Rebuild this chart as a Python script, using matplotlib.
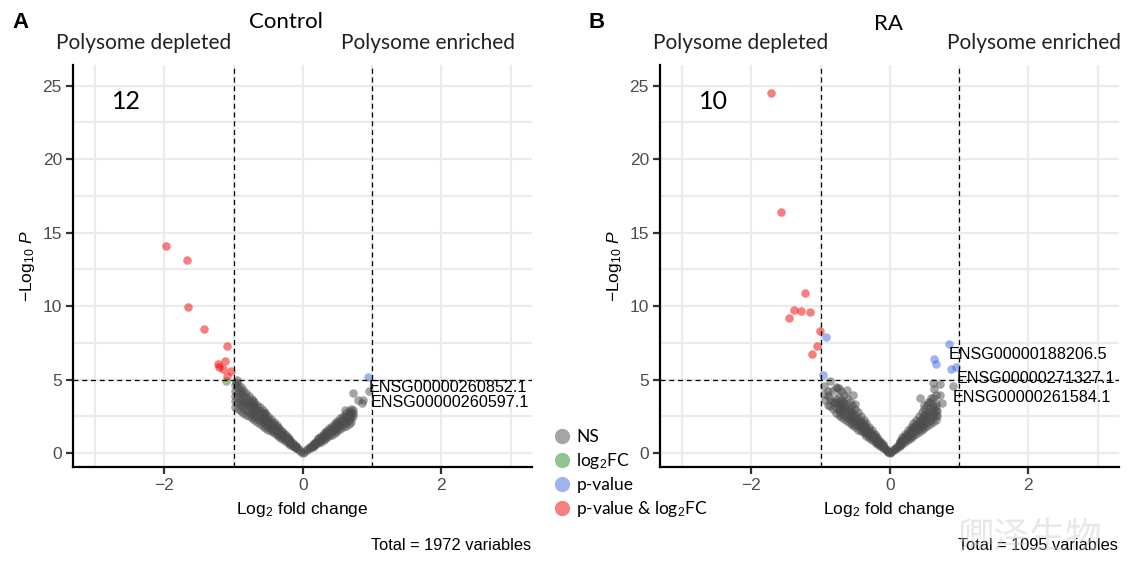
import matplotlib
matplotlib.use("Agg")
import matplotlib.pyplot as plt
from matplotlib.lines import Line2D

plt.rcParams['font.family'] = ['Liberation Sans', 'DejaVu Sans']
plt.rcParams['mathtext.fontset'] = 'custom'
plt.rcParams['mathtext.rm'] = 'Liberation Sans'
plt.rcParams['mathtext.it'] = 'Liberation Sans:italic'

# ---------------- data ----------------
# Control panel: non-significant points (dense V-shaped cloud + a few outliers)
ctrl_ns_x = [
    -0.98, -0.98, -0.98, -0.98, -0.94, -0.94, -0.94, -0.94, -0.90, -0.90, -0.90, -0.90,
    -0.86, -0.86, -0.86, -0.86, -0.82, -0.82, -0.82, -0.82, -0.78, -0.78, -0.78, -0.78,
    -0.74, -0.74, -0.74, -0.74, -0.70, -0.70, -0.70, -0.70, -0.66, -0.66, -0.66, -0.66,
    -0.62, -0.62, -0.62, -0.62, -0.58, -0.58, -0.58, -0.58, -0.54, -0.54, -0.54, -0.54,
    -0.50, -0.50, -0.50, -0.50, -0.46, -0.46, -0.46, -0.46, -0.42, -0.42, -0.42, -0.42,
    -0.38, -0.38, -0.38, -0.38, -0.34, -0.34, -0.34, -0.34, -0.30, -0.30, -0.30, -0.30,
    -0.26, -0.26, -0.26, -0.26, -0.22, -0.22, -0.22, -0.22, -0.18, -0.18, -0.18, -0.18,
    -0.14, -0.14, -0.14, -0.10, -0.10, -0.10, -0.06, -0.06, -0.02, 0.00,
    -0.97, -0.95, -0.93, -0.55, -0.72,
    0.02, 0.06, 0.06, 0.10, 0.10, 0.10, 0.14, 0.14, 0.14, 0.18, 0.18, 0.18,
    0.22, 0.22, 0.22, 0.22, 0.26, 0.26, 0.26, 0.26, 0.30, 0.30, 0.30, 0.30,
    0.34, 0.34, 0.34, 0.34, 0.38, 0.38, 0.38, 0.38, 0.42, 0.42, 0.42, 0.42,
    0.46, 0.46, 0.46, 0.46, 0.50, 0.50, 0.50, 0.50, 0.54, 0.54, 0.54, 0.54,
    0.58, 0.58, 0.58, 0.58, 0.62, 0.62, 0.62, 0.62, 0.66, 0.66, 0.66, 0.66,
    0.70, 0.70, 0.70, 0.70, 0.73, 0.73, 0.73,
    0.73, 0.96, 0.80, 0.85, 0.87, 0.61]
ctrl_ns_y = [
    3.55, 3.90, 4.25, 4.60, 3.40, 3.75, 4.10, 4.40, 3.25, 3.55, 3.90, 4.20,
    3.10, 3.40, 3.70, 4.00, 2.95, 3.25, 3.50, 3.80, 2.80, 3.10, 3.35, 3.60,
    2.65, 2.90, 3.15, 3.40, 2.50, 2.75, 3.00, 3.25, 2.40, 2.60, 2.85, 3.05,
    2.25, 2.45, 2.65, 2.85, 2.10, 2.30, 2.50, 2.70, 1.95, 2.15, 2.30, 2.50,
    1.80, 1.95, 2.15, 2.30, 1.65, 1.80, 1.95, 2.10, 1.50, 1.65, 1.80, 1.95,
    1.35, 1.50, 1.62, 1.75, 1.22, 1.34, 1.46, 1.58, 1.08, 1.18, 1.28, 1.40,
    0.94, 1.04, 1.12, 1.20, 0.80, 0.88, 0.96, 1.02, 0.65, 0.72, 0.78, 0.84,
    0.50, 0.56, 0.62, 0.36, 0.40, 0.45, 0.22, 0.25, 0.07, 0.02,
    4.85, 5.00, 4.70, 2.70, 3.55,
    0.07, 0.20, 0.25, 0.34, 0.40, 0.44, 0.48, 0.54, 0.60, 0.61, 0.69, 0.77,
    0.75, 0.84, 0.93, 1.00, 0.88, 0.98, 1.08, 1.15, 1.02, 1.13, 1.24, 1.33,
    1.16, 1.28, 1.40, 1.50, 1.29, 1.43, 1.56, 1.68, 1.43, 1.58, 1.72, 1.85,
    1.56, 1.72, 1.88, 2.02, 1.70, 1.87, 2.04, 2.20, 1.84, 2.02, 2.20, 2.36,
    1.97, 2.16, 2.36, 2.54, 2.10, 2.30, 2.50, 2.70, 2.24, 2.45, 2.66, 2.88,
    2.40, 2.60, 2.82, 3.00, 2.55, 2.75, 2.95,
    4.10, 4.25, 3.60, 3.43, 3.60, 2.95]
# Control: outer rows of the cloud (lower and upper edges)
ctrl_edge_x = [
    -0.98, -0.94, -0.90, -0.90, -0.86, -0.86, -0.82, -0.82, -0.78, -0.78, -0.74, -0.74,
    -0.70, -0.70, -0.66, -0.66, -0.62, -0.62, -0.58, -0.58, -0.54, -0.54, -0.50, -0.50,
    -0.46, -0.46, -0.42, -0.42, -0.38, -0.38, -0.34, -0.34, -0.30, -0.30, -0.26, -0.26,
    -0.22, -0.22, -0.18, -0.18, -0.14, -0.14, -0.10, -0.10,
    0.14, 0.18, 0.22, 0.26, 0.30, 0.34, 0.38, 0.42, 0.46, 0.50, 0.54, 0.58,
    0.62, 0.66, 0.70]
ctrl_edge_y = [
    3.14, 3.00, 2.88, 4.50, 2.75, 4.30, 2.62, 4.10, 2.50, 3.90, 2.37, 3.70,
    2.24, 3.50, 2.11, 3.30, 1.98, 3.10, 1.86, 2.90, 1.73, 2.70, 1.60, 2.50,
    1.47, 2.30, 1.34, 2.10, 1.22, 1.90, 1.09, 1.70, 0.96, 1.50, 0.83, 1.30,
    0.70, 1.10, 0.58, 0.90, 0.45, 0.70, 0.32, 0.50,
    0.42, 0.54, 0.66, 0.78, 0.90, 1.02, 1.14, 1.26, 1.38, 1.50, 1.62, 1.74,
    1.86, 1.98, 2.10]
ctrl_fc_x = [-1.11]
ctrl_fc_y = [4.90]
ctrl_p_x = [0.94]
ctrl_p_y = [5.20]
ctrl_both_x = [-1.97, -1.68, -1.66, -1.43, -1.09, -1.23, -1.21, -1.12, -1.16, -1.04, -1.09]
ctrl_both_y = [14.10, 13.15, 9.95, 8.45, 7.30, 6.05, 5.85, 6.25, 5.75, 5.60, 5.25]
ctrl_labels = ["ENSG00000260852.1", "ENSG00000260597.1"]
ctrl_label_x = [0.95, 0.98]
ctrl_label_y = [4.43, 3.41]
ctrl_count = "12"
ctrl_total = 1972

# RA panel: non-significant points
ra_ns_x = [
    -0.78, -0.78, -0.78, -0.78, -0.74, -0.74, -0.74, -0.74, -0.70, -0.70, -0.70, -0.70,
    -0.66, -0.66, -0.66, -0.66, -0.62, -0.62, -0.62, -0.62, -0.58, -0.58, -0.58, -0.58,
    -0.54, -0.54, -0.54, -0.54, -0.50, -0.50, -0.50, -0.50, -0.46, -0.46, -0.46, -0.46,
    -0.42, -0.42, -0.42, -0.42, -0.38, -0.38, -0.38, -0.38, -0.34, -0.34, -0.34, -0.34,
    -0.30, -0.30, -0.30, -0.30, -0.26, -0.26, -0.26, -0.26, -0.22, -0.22, -0.22, -0.22,
    -0.18, -0.18, -0.18, -0.18, -0.14, -0.14, -0.14, -0.14, -0.10, -0.10, -0.10,
    -0.06, -0.06, -0.06, -0.02, -0.02, 0.00,
    -0.95, -0.93, -0.90, -0.90, -0.86, -0.86, -0.82, -0.82,
    -0.62, -0.78, -0.77, -0.86, -0.95, -0.83, -0.81, -0.53, -0.67, -0.50, -0.72, -0.90,
    0.02, 0.02, 0.06, 0.06, 0.06, 0.10, 0.10, 0.10, 0.14, 0.14, 0.14, 0.14,
    0.18, 0.18, 0.18, 0.18, 0.22, 0.22, 0.22, 0.22, 0.26, 0.26, 0.26, 0.26,
    0.30, 0.30, 0.30, 0.30, 0.34, 0.34, 0.34, 0.34, 0.38, 0.38, 0.38, 0.38,
    0.42, 0.42, 0.42, 0.42, 0.46, 0.46, 0.46, 0.46, 0.50, 0.50, 0.50, 0.50,
    0.54, 0.54, 0.54, 0.54, 0.58, 0.58, 0.58, 0.58, 0.62, 0.62, 0.62, 0.62,
    0.66, 0.66, 0.66, 0.66, 0.68, 0.68,
    0.91, 0.62, 0.72, 0.73, 0.75, 0.64, 0.60, 0.43, 0.50, 0.55]
ra_ns_y = [
    2.75, 3.05, 3.40, 3.70, 2.60, 2.90, 3.20, 3.50, 2.45, 2.75, 3.05, 3.35,
    2.30, 2.60, 2.90, 3.15, 2.17, 2.45, 2.70, 2.95, 2.03, 2.30, 2.55, 2.78,
    1.90, 2.13, 2.36, 2.60, 1.75, 1.97, 2.19, 2.40, 1.60, 1.81, 2.02, 2.20,
    1.47, 1.65, 1.84, 2.02, 1.33, 1.50, 1.66, 1.82, 1.19, 1.34, 1.49, 1.63,
    1.05, 1.18, 1.31, 1.44, 0.91, 1.02, 1.14, 1.25, 0.77, 0.87, 0.96, 1.05,
    0.63, 0.71, 0.79, 0.86, 0.49, 0.55, 0.61, 0.67, 0.35, 0.40, 0.45,
    0.21, 0.25, 0.28, 0.07, 0.09, 0.02,
    4.00, 3.60, 3.30, 3.90, 3.20, 3.70, 3.00, 3.50,
    4.30, 4.48, 4.40, 4.87, 4.57, 4.23, 3.50, 3.96, 3.50, 3.32, 2.93, 4.20,
    0.07, 0.09, 0.21, 0.25, 0.28, 0.35, 0.40, 0.46, 0.49, 0.56, 0.63, 0.68,
    0.63, 0.72, 0.80, 0.88, 0.77, 0.88, 0.98, 1.07, 0.90, 1.03, 1.15, 1.27,
    1.03, 1.18, 1.33, 1.47, 1.16, 1.33, 1.50, 1.66, 1.30, 1.48, 1.67, 1.85,
    1.43, 1.64, 1.84, 2.04, 1.57, 1.80, 2.02, 2.24, 1.70, 1.95, 2.20, 2.44,
    1.84, 2.10, 2.37, 2.63, 1.97, 2.26, 2.55, 2.82, 2.10, 2.42, 2.72, 3.02,
    2.25, 2.57, 2.90, 3.20, 2.50, 2.85,
    4.57, 4.76, 4.71, 3.96, 3.43, 4.35, 3.73, 3.73, 3.30, 3.50]
# RA: upper rows of the cloud
ra_edge_x = [
    -0.74, -0.74, -0.70, -0.70, -0.66, -0.66, -0.62, -0.62, -0.58, -0.58, -0.54, -0.54,
    -0.50, -0.50, -0.46, -0.46, -0.42, -0.42, -0.38, -0.38, -0.34, -0.34, -0.30, -0.30,
    -0.26, -0.26, -0.22, -0.22, -0.18, -0.18, -0.14, -0.14, -0.10, -0.10,
    0.14, 0.14, 0.18, 0.18, 0.22, 0.22, 0.26, 0.26, 0.30, 0.30, 0.34, 0.34,
    0.38, 0.38, 0.42, 0.42, 0.46, 0.46, 0.50, 0.50, 0.54, 0.54, 0.58, 0.58,
    0.62, 0.62, 0.66, 0.66]
ra_edge_y = [
    3.85, 4.44, 3.64, 4.20, 3.43, 3.96, 3.22, 3.72, 3.02, 3.48, 2.81, 3.24,
    2.60, 3.00, 2.39, 2.76, 2.18, 2.52, 1.98, 2.28, 1.77, 2.04, 1.56, 1.80,
    1.35, 1.56, 1.14, 1.32, 0.94, 1.08, 0.73, 0.84, 0.52, 0.60,
    0.73, 0.84, 0.94, 1.08, 1.14, 1.32, 1.35, 1.56, 1.56, 1.80, 1.77, 2.04,
    1.98, 2.28, 2.18, 2.52, 2.39, 2.76, 2.60, 3.00, 2.81, 3.24, 3.02, 3.48,
    3.22, 3.72, 3.43, 3.96]
ra_fc_x = []
ra_fc_y = []
ra_p_x = [-0.92, 0.85, 0.64, 0.67, 0.89, 0.95, -0.96]
ra_p_y = [7.87, 7.44, 6.40, 6.07, 5.71, 5.85, 5.32]
ra_both_x = [-1.72, -1.57, -1.22, -1.39, -1.28, -1.16, -1.46, -1.01, -1.05, -1.12]
ra_both_y = [24.50, 16.43, 10.87, 9.71, 9.67, 9.60, 9.20, 8.28, 7.26, 6.76]
ra_labels = ["ENSG00000188206.5", "ENSG00000271327.1", "ENSG00000261584.1"]
ra_label_x = [0.85, 0.96, 0.91]
ra_label_y = [6.69, 5.05, 3.75]
ra_count = "10"
ra_total = 1095

legend_labels = ["NS", "log$_2$FC", "p-value", "p-value & log$_2$FC"]
colors = {"NS": "#4d4d4d", "FC": "#228b22", "P": "#4169e1", "BOTH": "#ee0000"}

x_ticks = [-2, 0, 2]
x_ticklabels = ["\u22122", "0", "2"]
y_ticks = [0, 5, 10, 15, 20, 25]
fc_cut = 1.0
p_cut = 5.0

# ---------------- figure ----------------
W, H = 1135, 567
fig = plt.figure(figsize=(W / 100, H / 100), dpi=100)

def fx(px):
    return px / W

def fy(py):
    return 1 - py / H

def panel(left_px, d):
    ax = fig.add_axes([fx(left_px), fy(467), (532 - 73) / W, (467 - 65) / H])
    ax.set_xlim(-3.32, 3.31)
    ax.set_ylim(-0.95, 26.4)
    ax.set_xticks(x_ticks)
    ax.set_xticks([-3, -1, 1, 3], minor=True)
    ax.set_yticks(y_ticks)
    ax.set_yticks([2.5, 7.5, 12.5, 17.5, 22.5], minor=True)
    ax.set_xticklabels(x_ticklabels)
    ax.grid(True, which='both', color='#ebebeb', lw=1.6)
    ax.set_axisbelow(True)
    for s in ['top', 'right']:
        ax.spines[s].set_visible(False)
    for s in ['left', 'bottom']:
        ax.spines[s].set_linewidth(1.6)
        ax.spines[s].set_color('black')
    ax.tick_params(which='major', length=5, width=1.6, color='#333333',
                   labelsize=12.5, labelcolor='#4d4d4d', pad=3)
    ax.tick_params(which='minor', length=0)
    kw = dict(s=38, linewidths=0, alpha=0.5, zorder=3)
    ax.scatter(d['ns_x'] + d['edge_x'], d['ns_y'] + d['edge_y'], color=colors['NS'], **kw)
    if d['fc_x']:
        ax.scatter(d['fc_x'], d['fc_y'], color=colors['FC'], **kw)
    ax.scatter(d['p_x'], d['p_y'], color=colors['P'], **kw)
    ax.scatter(d['both_x'], d['both_y'], color=colors['BOTH'], **kw)
    ax.axvline(-fc_cut, color='black', lw=0.9, ls=(0, (4, 3)), zorder=4)
    ax.axvline(fc_cut, color='black', lw=0.9, ls=(0, (4, 3)), zorder=4)
    ax.axhline(p_cut, color='black', lw=0.9, ls=(0, (4, 3)), zorder=4)
    for t, x, y in zip(d['labels'], d['lx'], d['ly']):
        ax.text(x, y, t, fontsize=11.6, ha='left', va='center', color='black',
                zorder=5, clip_on=False)
    ax.text(-2.55, 23.9, d['count'], fontsize=18, family='Lato', ha='center',
            va='center')
    ax.set_xlabel("Log$_2$ fold change", fontsize=12.5, labelpad=5)
    ax.set_ylabel(r"$-\mathrm{Log}_{10}\ \mathit{P}$", fontsize=12.5, labelpad=4)
    return ax

ax1 = panel(73, dict(ns_x=ctrl_ns_x, ns_y=ctrl_ns_y, edge_x=ctrl_edge_x, edge_y=ctrl_edge_y,
                     fc_x=ctrl_fc_x, fc_y=ctrl_fc_y,
                     p_x=ctrl_p_x, p_y=ctrl_p_y, both_x=ctrl_both_x, both_y=ctrl_both_y,
                     labels=ctrl_labels, lx=ctrl_label_x, ly=ctrl_label_y,
                     count=ctrl_count))
ax2 = panel(660, dict(ns_x=ra_ns_x, ns_y=ra_ns_y, edge_x=ra_edge_x, edge_y=ra_edge_y,
                      fc_x=ra_fc_x, fc_y=ra_fc_y,
                      p_x=ra_p_x, p_y=ra_p_y, both_x=ra_both_x, both_y=ra_both_y,
                      labels=ra_labels, lx=ra_label_x, ly=ra_label_y,
                      count=ra_count))

# totals
fig.text(fx(531), fy(545), f"Total = {ctrl_total} variables", fontsize=11.8,
         ha='right', va='center')
fig.text(fx(1118), fy(545), f"Total = {ra_total} variables", fontsize=11.8,
         ha='right', va='center')

# titles and annotations
fig.text(fx(12), fy(22), "A", fontsize=16, fontweight='bold', ha='left', va='center')
fig.text(fx(588), fy(22), "B", fontsize=16, fontweight='bold', ha='left', va='center')
fig.text(fx(286), fy(22), "Control", fontsize=16, family='Lato', ha='center', va='center')
fig.text(fx(888), fy(24), "RA", fontsize=16, family='Lato', ha='center', va='center')
for cx, t in [(144, "Polysome depleted"), (428, "Polysome enriched"),
              (741, "Polysome depleted"), (1034, "Polysome enriched")]:
    fig.text(fx(cx), fy(43), t, fontsize=15, family='Lato', ha='center', va='center',
             color='#222222')

# legend
handles = [Line2D([], [], marker='o', ls='', markersize=11, markeredgewidth=0,
                  color=c, alpha=0.5)
           for c in [colors['NS'], colors['FC'], colors['P'], colors['BOTH']]]
fig.legend(handles, legend_labels, loc='upper left',
           bbox_to_anchor=(fx(545), fy(422)), frameon=False,
           prop={'family': 'Lato', 'size': 12.5}, handletextpad=0.2,
           labelspacing=0.35, handlelength=1.2, borderaxespad=0)

# watermark
fig.text(fx(1030), fy(538), "卿泽生物", fontsize=26, family='Noto Sans CJK SC',
         color='#cccccc', alpha=0.45, ha='center', va='center', style='italic')

fig.savefig("out.png", dpi=100)
